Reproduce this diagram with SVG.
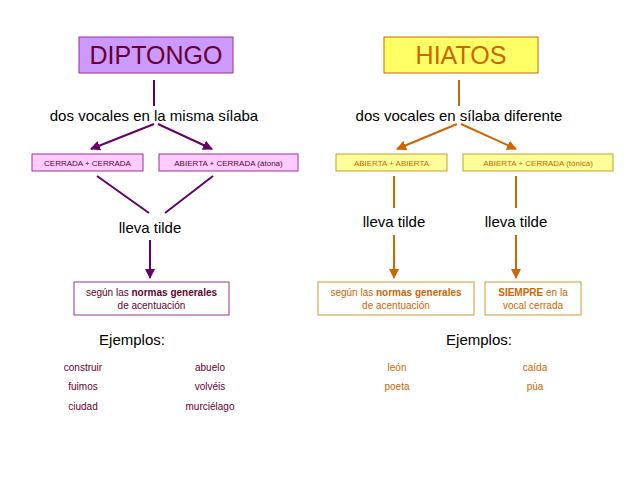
<svg xmlns="http://www.w3.org/2000/svg" width="640" height="480" viewBox="0 0 640 480">
<style>
text{font-family:"Liberation Sans","DejaVu Sans",sans-serif;text-anchor:middle}
.big{font-size:25px}
.mid{font-size:15px;fill:#000}
.sm{font-size:8px}
.ex{font-size:10px}
.p{fill:#660033}.o{fill:#cc6600}
.lp{stroke:#660066;stroke-width:2;fill:none}
.lo{stroke:#cc6600;stroke-width:2;fill:none}
</style>
<defs>
<marker id="ap" viewBox="0 0 10 10" refX="9" refY="5" markerWidth="5" markerHeight="5" orient="auto"><path d="M0,0L10,5L0,10z" fill="#660066"/></marker>
<marker id="ao" viewBox="0 0 10 10" refX="9" refY="5" markerWidth="5" markerHeight="5" orient="auto"><path d="M0,0L10,5L0,10z" fill="#cc6600"/></marker>
</defs>
<rect width="640" height="480" fill="#fff"/>
<g id="connectors">
<path class="lp" d="M154,80V106"/>
<path class="lp" d="M154,124L91,149" marker-end="url(#ap)"/>
<path class="lp" d="M158,124L212,149" marker-end="url(#ap)"/>
<path class="lp" d="M97,176L149,213M213,176L165,213"/>
<path class="lp" d="M150,240V278" marker-end="url(#ap)"/>
<path class="lo" d="M459,80V106"/>
<path class="lo" d="M457,124L397,149" marker-end="url(#ao)"/>
<path class="lo" d="M461,124L516,149" marker-end="url(#ao)"/>
<path class="lo" d="M394,176V208M516,176V208"/>
<path class="lo" d="M394,235V278" marker-end="url(#ao)"/>
<path class="lo" d="M516,235V278" marker-end="url(#ao)"/>
</g>
<g id="diptongo"><rect x="79" y="37" width="154" height="36" fill="#cc99ff" stroke="#993399"/><text x="156" y="64" class="big p">DIPTONGO</text></g>
<g id="dip-def"><text x="154" y="121" class="mid">dos vocales en la misma sílaba</text></g>
<g id="cc"><rect x="32" y="154" width="111" height="17" fill="#ffccff" stroke="#993399"/><text x="87.5" y="165.5" class="sm p">CERRADA + CERRADA</text></g>
<g id="ac-atona"><rect x="159" y="154" width="139" height="17" fill="#ffccff" stroke="#993399"/><text x="228.5" y="165.5" class="sm p">ABIERTA + CERRADA (átona)</text></g>
<g id="dip-tilde"><text x="150" y="233" class="mid">lleva tilde</text></g>
<g id="dip-normas"><rect x="74" y="282" width="155" height="33" fill="#fff" stroke="#993399"/><text x="151.5" y="296" class="ex p">según las <tspan font-weight="bold">normas generales</tspan></text><text x="151.5" y="309" class="ex p">de acentuación</text></g>
<g id="hiatos"><rect x="384" y="37" width="154" height="36" fill="#ffff66" stroke="#cc6600"/><text x="461" y="64" class="big o">HIATOS</text></g>
<g id="hia-def"><text x="459" y="121" class="mid">dos vocales en sílaba diferente</text></g>
<g id="aa"><rect x="336" y="154" width="111" height="17" fill="#ffff99" stroke="#cc9933"/><text x="391.5" y="165.5" class="sm o">ABIERTA + ABIERTA</text></g>
<g id="ac-tonica"><rect x="463" y="154" width="150" height="17" fill="#ffff99" stroke="#cc9933"/><text x="538" y="165.5" class="sm o">ABIERTA + CERRADA (tónica)</text></g>
<g id="hia-tilde1"><text x="394" y="227" class="mid">lleva tilde</text></g>
<g id="hia-tilde2"><text x="516" y="227" class="mid">lleva tilde</text></g>
<g id="hia-normas"><rect x="318" y="282" width="156" height="33" fill="#fff" stroke="#cc9933"/><text x="396" y="296" class="ex o">según las <tspan font-weight="bold">normas generales</tspan></text><text x="396" y="309" class="ex o">de acentuación</text></g>
<g id="siempre"><rect x="485" y="282" width="96" height="33" fill="#fff" stroke="#cc9933"/><text x="533" y="296" class="ex o"><tspan font-weight="bold">SIEMPRE</tspan> en la</text><text x="533" y="309" class="ex o">vocal cerrada</text></g>
<g id="ejemplos">
<text x="132" y="345" class="mid">Ejemplos:</text>
<text x="479" y="345" class="mid">Ejemplos:</text>
<text x="83" y="371" class="ex p">construir</text><text x="83" y="390" class="ex p">fuimos</text><text x="83" y="410" class="ex p">ciudad</text>
<text x="210" y="371" class="ex p">abuelo</text><text x="210" y="390" class="ex p">volvéis</text><text x="210" y="410" class="ex p">murciélago</text>
<text x="397" y="371" class="ex o">león</text><text x="397" y="390" class="ex o">poeta</text>
<text x="535" y="371" class="ex o">caída</text><text x="535" y="390" class="ex o">púa</text>
</g>
</svg>
